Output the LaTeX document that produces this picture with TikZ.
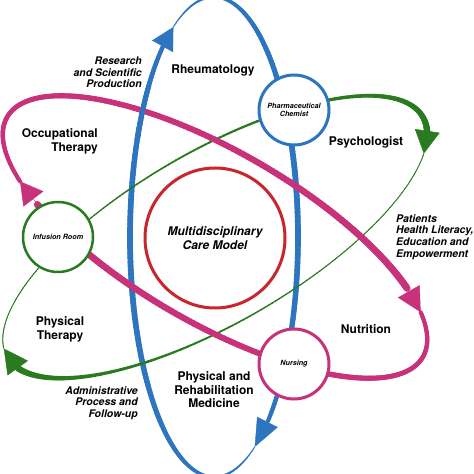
\documentclass[tikz,border=0pt]{standalone}
\usepackage{fontspec}
\setmainfont{TeX Gyre Heros}
\usetikzlibrary{arrows.meta}
\definecolor{obl}{RGB}{46,117,192}
\definecolor{opk}{RGB}{200,50,122}
\definecolor{ogr}{RGB}{42,122,32}
\definecolor{ord}{RGB}{200,38,44}
\tikzset{
  hub/.style={circle, fill=white, minimum size=70pt, inner sep=0pt, align=center,
    font=\fontsize{7.2}{8.5}\selectfont\bfseries\itshape},
  lab/.style={font=\fontsize{12}{13.5}\selectfont\bfseries, align=center, inner sep=0pt},
  ilab/.style={font=\fontsize{10.5}{11.7}\selectfont\bfseries\itshape, inner sep=0pt},
  orbtip/.style={line width=0.4pt}
}
% #1 colour, #2 start, #3 end (screen parameter), #4 radii, #5 width formula in \t
\newcommand{\orbseg}[5]{%
  \foreach \t in {#2,...,#3}{%
    \pgfmathsetmacro\w{#5}%
    \pgfmathsetmacro\ta{-\t}%
    \pgfmathsetmacro\tb{-\t-1.15}%
    \draw[#1, line width=\w pt, line cap=round] (\ta:#4) -- (\tb:#4);
  }%
}
\begin{document}
\begin{tikzpicture}[x=1pt,y=1pt]
\useasboundingbox (0,0) rectangle (474,474);
\clip (0,0) rectangle (474,474);
\fill[white] (0,0) rectangle (474,474);
% blue orbit
\begin{scope}[shift={(214,237)}, rotate=90]
  \orbseg{obl}{-29}{139}{240pt and 84pt}{0.9+4.8*sin((\t+29)/169*140)}
  \orbseg{obl}{151}{324}{240pt and 84pt}{0.9+4.8*sin((\t-151)/173.5*140)}
  \draw[obl, orbtip, -{Triangle[length=22pt,width=24pt]}] (35.5:240pt and 84pt) -- (29:240pt and 84pt);
  \draw[obl, orbtip, -{Triangle[length=28pt,width=23pt]}] (-140:240pt and 84pt) -- (-151:240pt and 84pt);
\end{scope}
% green orbit
\begin{scope}[shift={(215,237)}, rotate=30]
  \orbseg{ogr}{22}{169}{240pt and 86pt}{0.9+5.5*((\t-22)/148)^3}
  \orbseg{ogr}{186}{369}{240pt and 86pt}{0.9+5.5*((\t-186)/184)^2*sqrt((\t-186)/184)}
  \draw[ogr, orbtip, -{Triangle[length=23pt,width=25pt]}] (-10:240pt and 86pt) -- (-22:240pt and 86pt);
  \draw[ogr, orbtip, -{Triangle[length=24pt,width=25pt]}] (-170:240pt and 86pt) -- (-186:240pt and 86pt);
\end{scope}
% pink orbit
\begin{scope}[shift={(215,237)}, rotate=-30]
  \orbseg{opk}{-26}{134}{240pt and 86pt}{4+3*(\t+26)/160}
  \orbseg{opk}{145}{322}{240pt and 86pt}{4+3*(\t-145)/178}
  \draw[opk, orbtip, -{Triangle[length=24pt,width=25pt]}] (37:240pt and 86pt) -- (26:240pt and 86pt);
  \draw[opk, orbtip, -{Triangle[length=22pt,width=25pt]}] (-134:240pt and 86pt) -- (-145:240pt and 86pt);
\end{scope}
% blue over pink at the upper left crossing
\begin{scope}[shift={(214,237)}, rotate=90]
  \orbseg{obl}{294}{308}{240pt and 84pt}{0.9+4.8*sin((\t-151)/173.5*140)}
\end{scope}
% hubs
\node[hub, draw=ord, line width=3pt, minimum size=140pt,
      font=\fontsize{12}{14}\selectfont\bfseries\itshape] (cm) at (215,236) {Multidisciplinary\\Care Model};
\node[hub, draw=obl, line width=3pt] (pc) at (294,364) {Pharmaceutical\\Chemist};
\node[hub, draw=ogr, line width=2.5pt] (ir) at (58,237) {Infusion Room};
\node[hub, draw=opk, line width=3pt] (nu) at (294,110) {Nursing};
% labels
\node[lab] (rh) at (213,404) {Rheumatology};
\node[lab, align=right, anchor=east] (ot) at (98,332.5) {Occupational\\Therapy};
\node[lab] (ps) at (366,332) {Psychologist};
\node[lab] (pt) at (60,144.5) {Physical\\Therapy};
\node[lab] (nt) at (366,145) {Nutrition};
\node[lab] (prm) at (214,84) {Physical and\\Rehabilitation\\Medicine};
\node[ilab, align=right, anchor=east] (rs) at (142,401.5) {Research\\and Scientific\\Production};
\node[ilab, align=left, anchor=west] (ph) at (396,237) {Patients\\Health Literacy,\\Education and\\Empowerment};
\node[ilab, align=right, anchor=east] (ad) at (138,71) {Administrative\\Process and\\Follow-up};
\end{tikzpicture}
\end{document}
